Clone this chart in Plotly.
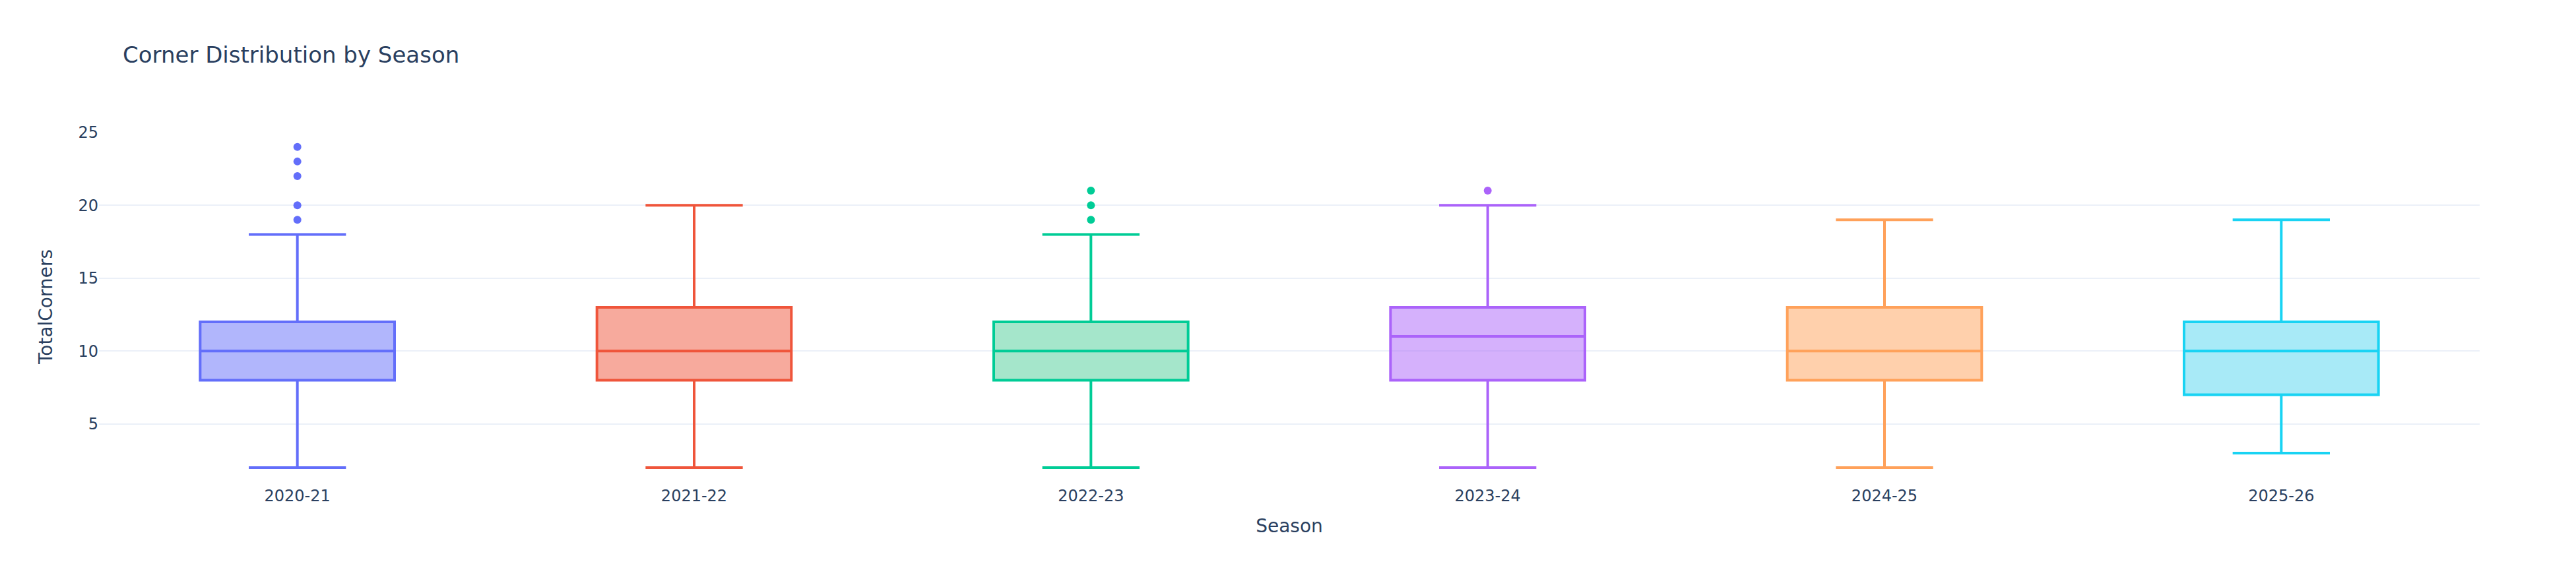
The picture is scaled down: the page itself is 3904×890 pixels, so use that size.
import plotly.graph_objects as go

# ---- data ----
seasons = ["2020-21", "2021-22", "2022-23", "2023-24", "2024-25", "2025-26"]
q1_values = [8, 8, 8, 8, 8, 7]
median_values = [10, 10, 10, 11, 10, 10]
q3_values = [12, 13, 12, 13, 13, 12]
lower_fence = [2, 2, 2, 2, 2, 3]
upper_fence = [18, 20, 18, 20, 19, 19]

outlier_season = ["2020-21", "2020-21", "2020-21", "2020-21", "2020-21",
                  "2022-23", "2022-23", "2022-23",
                  "2023-24"]
outlier_values = [19, 20, 22, 23, 24,
                  19, 20, 21,
                  21]

y_ticks = [5, 10, 15, 20, 25]

# ---- styling ----
colors = ["#636efa", "#EF553B", "#00cc96", "#ab63fa", "#FFA15A", "#19d3f3"]
fills = ["rgba(99,110,250,0.5)", "rgba(239,85,59,0.5)", "#a5e6cb",
         "rgba(171,99,250,0.5)", "rgba(255,161,90,0.5)", "#a8eaf7"]
S = 2  # reference drawn at 2x scale
FONT = "DejaVu Sans"
TXT = "#2a3f5f"

fig = go.Figure()
for i, s in enumerate(seasons):
    fig.add_trace(go.Box(
        x=[s],
        q1=[q1_values[i]],
        median=[median_values[i]],
        q3=[q3_values[i]],
        lowerfence=[lower_fence[i]],
        upperfence=[upper_fence[i]],
        name=s,
        width=0.49,
        whiskerwidth=0.5,
        boxpoints=False,
        line=dict(color=colors[i], width=2 * S),
        fillcolor=fills[i],
        showlegend=False,
    ))

for i, s in enumerate(seasons):
    ys = [v for ss, v in zip(outlier_season, outlier_values) if ss == s]
    if not ys:
        continue
    fig.add_trace(go.Scatter(
        x=[s] * len(ys),
        y=ys,
        mode="markers",
        marker=dict(color=colors[i], size=6 * S, line=dict(width=0)),
        showlegend=False,
        hoverinfo="y",
    ))

fig.update_layout(
    template="plotly_white",
    width=3904,
    height=890,
    margin=dict(l=150, r=146, t=200, b=160),
    font=dict(family=FONT, size=12 * S, color=TXT),
    title=dict(
        text="Corner Distribution by Season",
        font=dict(family=FONT, size=17 * S, color=TXT),
        x=186 / 3904, xanchor="left", xref="container",
        y=1 - 83 / 890, yanchor="middle", yref="container",
    ),
    showlegend=False,
    boxmode="overlay",
)
fig.update_xaxes(
    title=dict(text="Season", font=dict(size=14 * S, color=TXT), standoff=22),
    type="category",
    categoryorder="array",
    categoryarray=seasons,
    range=[-0.5, 5.5],
    showgrid=False,
    ticklabelstandoff=5,
    tickfont=dict(size=12 * S, color=TXT),
)
fig.update_yaxes(
    title=dict(text="TotalCorners", font=dict(size=14 * S, color=TXT), standoff=30),
    range=[1.05, 25.03],
    tickvals=y_ticks,
    ticktext=[str(v) for v in y_ticks],
    gridcolor="#EBF0F8",
    gridwidth=S,
    zeroline=False,
    tickfont=dict(size=12 * S, color=TXT),
)

fig.write_html("out.html")
